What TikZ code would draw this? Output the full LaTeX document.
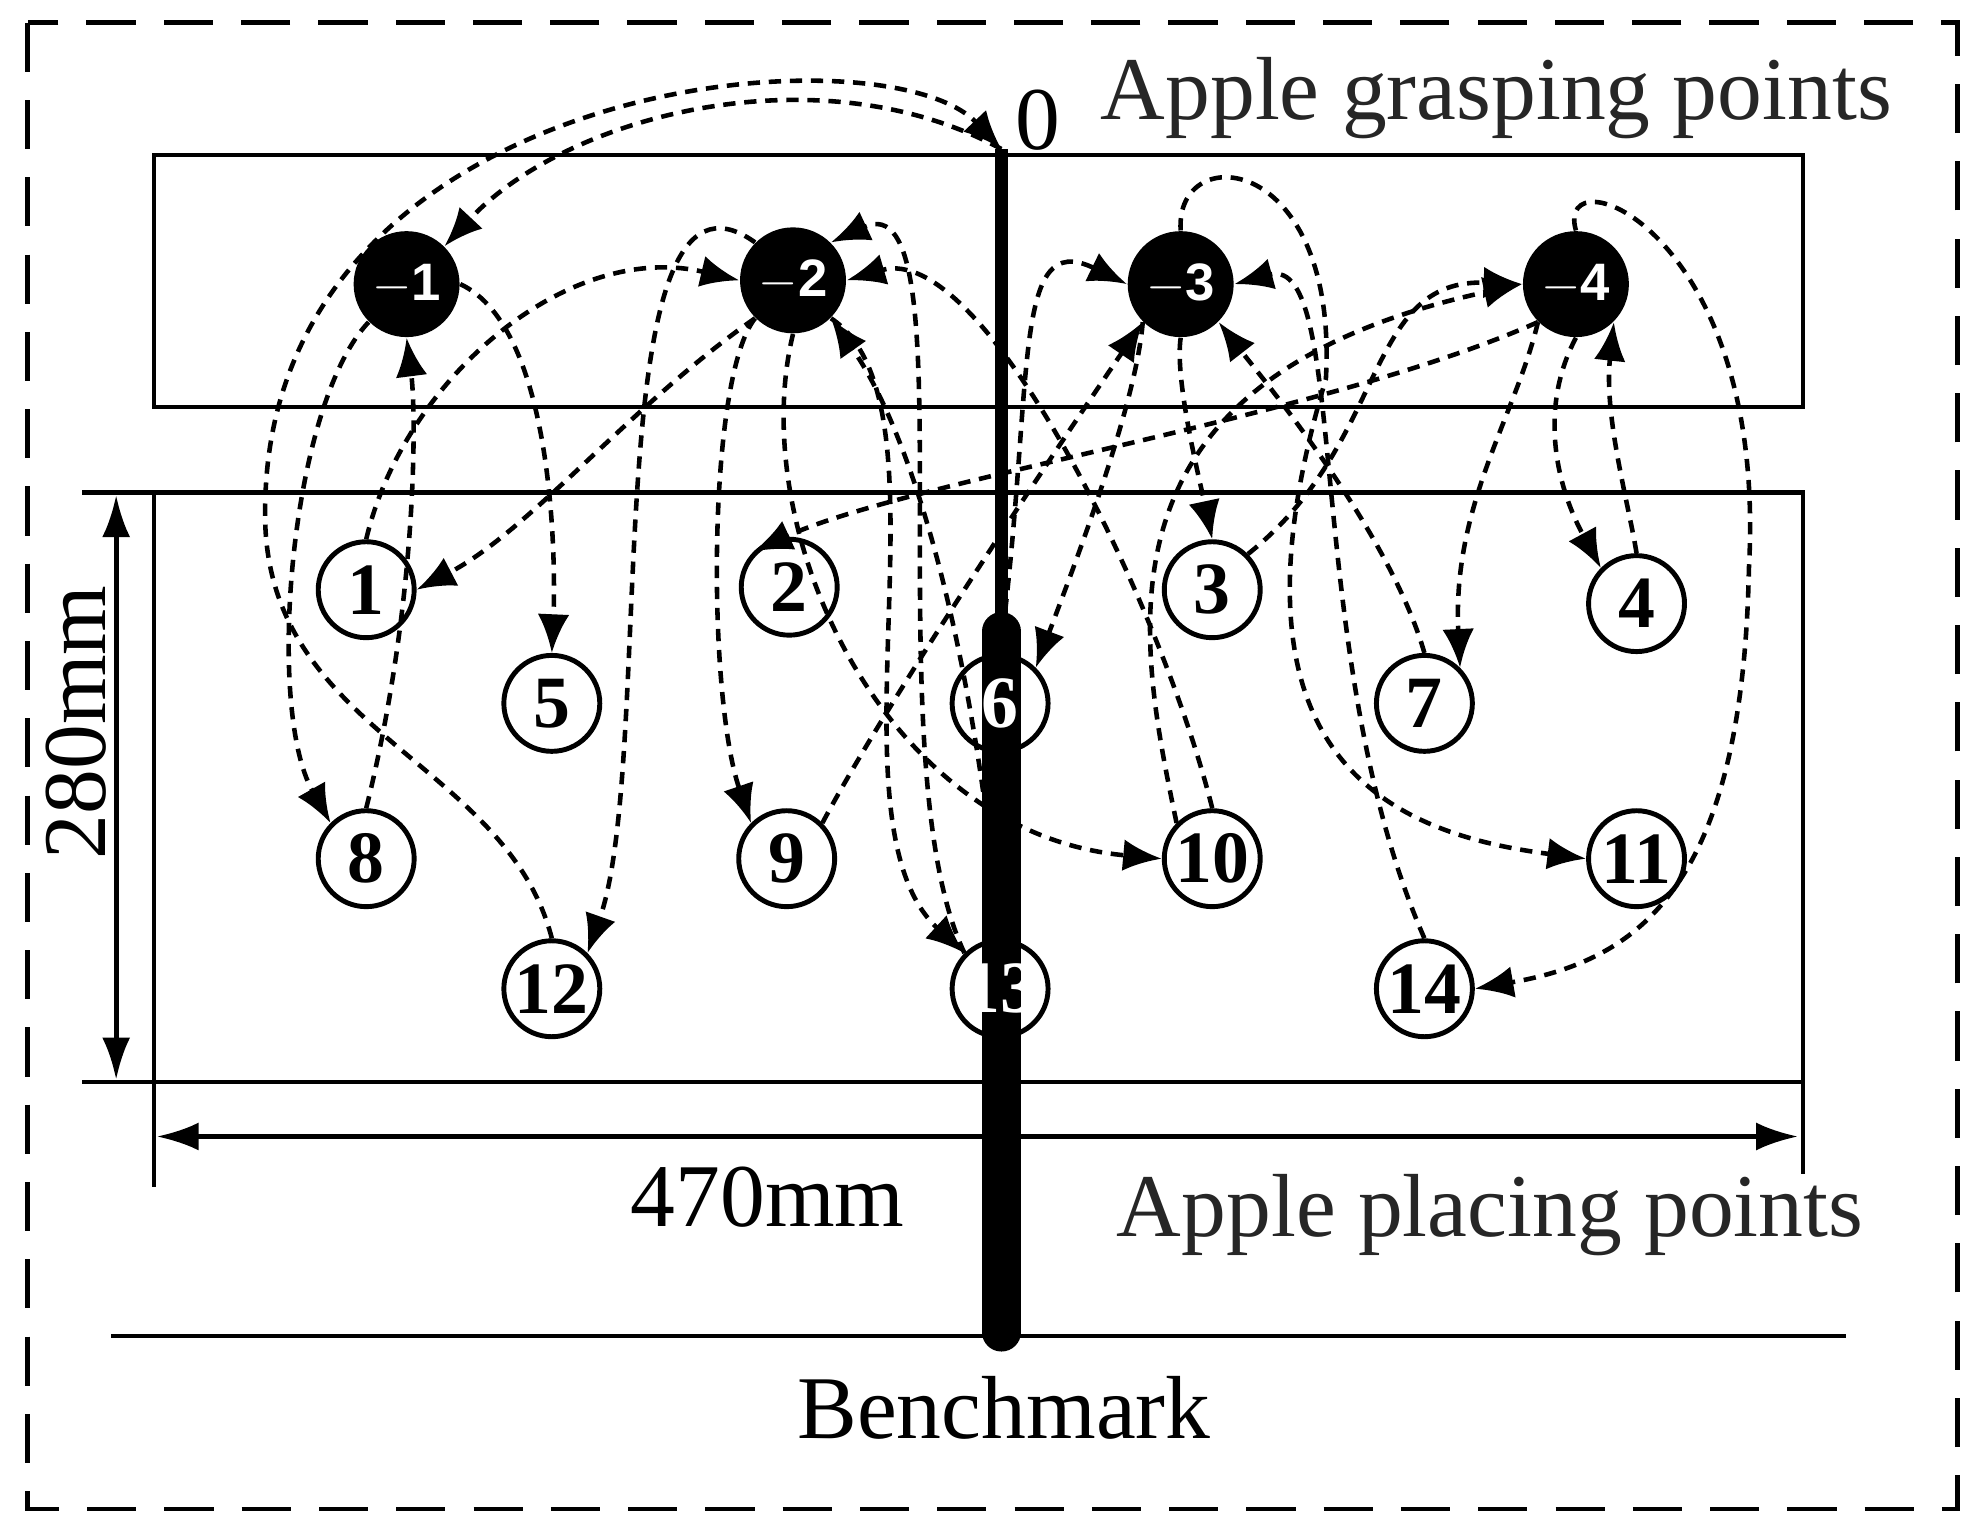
\documentclass[tikz,border=0pt]{standalone}
\usepackage{fontspec}
\setmainfont{Liberation Serif}
\newfontfamily\gsans{Liberation Sans}
\usepackage{tikz}
\usetikzlibrary{arrows.meta}
\begin{document}
\begin{tikzpicture}[x=0.012628cm,y=-0.012628cm,
    grasp/.style={circle,fill=black,text=white,inner sep=0pt,minimum size=1.06cm,font=\gsans\fontsize{15}{17}\selectfont\bfseries},
    place/.style={circle,draw,line width=1.4pt,fill=white,inner sep=0pt,minimum size=0.96cm,font=\fontsize{21}{23}\selectfont\bfseries},
    route/.style={dashed,dash pattern=on 3.5pt off 2.5pt,line width=1.3pt,-{Latex[length=11pt,width=9pt]}},
    big/.style={font=\fontsize{25.5}{28}\selectfont,text=black!85}]
\useasboundingbox (0,0) rectangle (1568,1216);
% Frame:
\draw[line width=1.4pt,dash pattern=on 14pt off 8pt] (22,18) rectangle (1550,1195);
\draw[line width=1.2pt] (122,123) rectangle (1428,322);
\draw[line width=1.2pt] (65,390) -- (1428,390) -- (1428,857) -- (65,857);
\draw[line width=1.2pt] (122,390) -- (122,940);
\draw[line width=1.2pt] (1428,857) -- (1428,930);
\draw[line width=1.2pt] (88,1058) -- (1462,1058);

% Dimensions:
\draw[line width=1.4pt,{Latex[length=12pt,width=8pt]}-{Latex[length=12pt,width=8pt]}] (92,392) -- (92,855);
\node[big,text=black,rotate=90] (h) at (60,572) {280mm};
\draw[line width=1.4pt,{Latex[length=12pt,width=8pt]}-{Latex[length=12pt,width=8pt]}] (124,900) -- (1424,900);
\node[big,text=black] (w) at (608,948) {470mm};

% Placing points under the bar:
\node[place] (n6) at (792,557) {};
\node[place] (n13) at (792,783) {};

% Bar:
\draw[line width=3.8pt] (793,118) -- (793,500);
\draw[line width=11pt,line cap=round] (793,500) -- (793,1055);
\coordinate (o) at (793,118);
\node[place,draw=none,fill=none,text=white] at (n6) {6};
\node[place,draw=none,fill=none,text=white] at (n13) {13};

% Labels:
\node[big,text=black] (zero) at (822,95) {0};
\node[big] (gl) at (1185,78) {Apple grasping points};
\node[big] (pl) at (1180,962) {Apple placing points};
\node[big,text=black] (bm) at (795,1115) {Benchmark};

% Grasping points:
\node[grasp] (m1) at (322,225) {$-$1};
\node[grasp] (m2) at (628,222) {$-$2};
\node[grasp] (m3) at (935,225) {$-$3};
\node[grasp] (m4) at (1248,225) {$-$4};

% Placing points:
\foreach \n/\x/\y in {1/290/467, 2/625/465, 3/960/467, 4/1296/478,
                      5/437/557, 7/1128/557, 8/290/680, 9/623/680,
                      10/960/680, 11/1296/680, 12/437/783, 14/1128/783}
  \node[place] (n\n) at (\x,\y) {\n};

% Routes:
\draw[route] (o) .. controls (650,40) and (450,90) .. (m1.north east);
\draw[route] (n12.north) .. controls (400,600) and (205,580) .. (210,400)
                          .. controls (215,60) and (700,20) .. (o);
\draw[route] (m1.south west) .. controls (230,320) and (210,560) .. (n8.north west);
\draw[route] (n8.north) .. controls (330,480) and (330,330) .. (m1.south);
\draw[route] (m1.east) .. controls (440,260) and (440,450) .. (n5.north);
\draw[route] (m2.south west) .. controls (500,320) and (420,420) .. (n1.east);
\draw[route] (n1.north) .. controls (320,300) and (450,190) .. (m2.west);
\draw[route] (m2.north west) .. controls (470,100) and (520,600) .. (n12.north east);
\draw[route] (m2.south west) .. controls (560,300) and (560,550) .. (n9.north west);
\draw[route] (n9.north east) .. controls (700,560) and (820,380) .. (m3.south west);
\draw[route] (n13.north west) .. controls (690,600) and (770,140) .. (m2.north east);
\draw[route] (n10.north) .. controls (920,480) and (780,190) .. (m2.east);
\draw[route] (m2.south) .. controls (590,420) and (700,660) .. (n10.west);
\draw[route] (n13.north) .. controls (770,500) and (720,340) .. (m2.south east);
\draw[route] (m2.south east) .. controls (760,320) and (650,650) .. (n13.north west);
\draw[route] (m4.south west) .. controls (1050,330) and (720,380) .. (n2.north west);
\draw[route] (n3.north east) .. controls (1100,350) and (1080,220) .. (m4.west);
\draw[route] (m3.south) .. controls (930,300) and (950,380) .. (n3.north);
\draw[route] (n6.north) .. controls (820,300) and (800,180) .. (m3.west);
\draw[route] (m3.south west) .. controls (900,320) and (850,450) .. (n6.north east);
\draw[route] (n14.north) .. controls (1030,520) and (1070,200) .. (m3.east);
\draw[route] (n7.north) .. controls (1100,420) and (1000,300) .. (m3.south east);
\draw[route] (m4.south west) .. controls (1200,330) and (1150,400) .. (n7.north east);
\draw[route] (m4.south) .. controls (1220,320) and (1230,380) .. (n4.north west);
\draw[route] (n4.north) .. controls (1290,400) and (1270,330) .. (m4.south east);
\draw[route] (m4.north) .. controls (1230,120) and (1400,180) .. (1385,450)
                        .. controls (1380,700) and (1300,760) .. (n14.east);
\draw[route] (m3.north) .. controls (930,110) and (1060,120) .. (1050,300)
                        .. controls (960,600) and (1100,660) .. (n11.west);
\draw[route] (n10.north west) .. controls (900,500) and (860,300) .. (m4.west);
\end{tikzpicture}
\end{document}
